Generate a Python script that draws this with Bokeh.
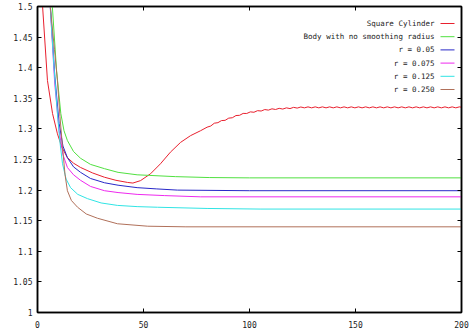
from bokeh.plotting import figure
from bokeh.models import Range1d, LinearAxis, FixedTicker, Label, Arrow
from bokeh.embed import file_html
from bokeh.resources import INLINE

# ---- data ----
x_square = [1.0, 2.4, 4.7, 7.1, 9.4, 11.5, 14.1, 17, 20.3, 26, 31.6, 37, 42.5, 45, 48.6,
            53.3, 58, 62.7, 67.5, 72.2, 76.9,
            80, 81.7, 83.4, 85.1, 86.8, 88.5, 90.2, 91.9, 93.6, 95.3,
            97, 98.7, 100.4, 102.1, 103.8, 105.5, 107.2, 108.9, 110.6, 112.3,
            114, 115.7, 117.4, 119.1, 120.8, 122.5, 124.2, 125.9, 127.6, 129.3,
            131, 132.7, 134.4, 136.1, 137.8, 139.5, 141.2, 142.9, 144.6, 146.3,
            148, 149.7, 151.4, 153.1, 154.8, 156.5, 158.2, 159.9, 161.6, 163.3,
            165, 166.7, 168.4, 170.1, 171.8, 173.5, 175.2, 176.9, 178.6, 180.3,
            182, 183.7, 185.4, 187.1, 188.8, 190.5, 192.2, 193.9, 195.6, 197.3,
            199, 200]
y_square = [1.62, 1.5, 1.379, 1.325, 1.292, 1.270, 1.253, 1.244, 1.237, 1.228, 1.221, 1.216,
            1.2125, 1.2115, 1.2155,
            1.2266, 1.243, 1.262, 1.278, 1.289, 1.297,
            1.3028, 1.3047, 1.3093, 1.3102, 1.3136, 1.3140, 1.3176, 1.3182, 1.3218, 1.3222,
            1.3253, 1.3252, 1.3278, 1.3272, 1.3298, 1.3292, 1.3316, 1.3307, 1.3328, 1.3317,
            1.3336, 1.3324, 1.3344, 1.3332, 1.3352, 1.3340, 1.3358, 1.3344, 1.3360, 1.3344,
            1.3360, 1.3344, 1.3360, 1.3344, 1.3360, 1.3344, 1.3360, 1.3344, 1.3360, 1.3344,
            1.3360, 1.3344, 1.3360, 1.3344, 1.3360, 1.3344, 1.3360, 1.3344, 1.3360, 1.3344,
            1.3360, 1.3344, 1.3360, 1.3344, 1.3360, 1.3344, 1.3360, 1.3344, 1.3360, 1.3344,
            1.3360, 1.3344, 1.3360, 1.3344, 1.3360, 1.3344, 1.3360, 1.3344, 1.3360, 1.3344,
            1.3360, 1.3354]

x_body = [4, 7, 9, 11, 12.5, 14.1, 17, 20.3, 25, 31.6, 38, 47, 53, 65, 81, 100, 200]
y_body = [1.60, 1.50, 1.395, 1.325, 1.297, 1.281, 1.263, 1.252, 1.242, 1.235, 1.229, 1.225,
          1.224, 1.222, 1.2205, 1.220, 1.220]

x_r005 = [4, 6.1, 8.2, 10.2, 12, 14.1, 17, 20.3, 25, 31.6, 38, 47, 56, 66, 100, 200]
y_r005 = [1.60, 1.50, 1.385, 1.309, 1.272, 1.253, 1.238, 1.229, 1.219, 1.212, 1.208, 1.204,
          1.202, 1.200, 1.199, 1.199]

x_r0075 = [4, 6, 8.1, 10.2, 12, 14.1, 17, 20.3, 25, 31.6, 38, 47, 60, 77, 200]
y_r0075 = [1.60, 1.50, 1.375, 1.297, 1.258, 1.237, 1.225, 1.216, 1.206, 1.199, 1.196, 1.193,
           1.191, 1.189, 1.189]

x_r0125 = [4, 6, 7.8, 9.4, 10.6, 11.8, 13.5, 15.6, 19, 23.6, 30, 37.7, 47, 56.6, 80, 105, 200]
y_r0125 = [1.60, 1.50, 1.400, 1.325, 1.278, 1.243, 1.218, 1.204, 1.193, 1.186, 1.179, 1.175,
           1.173, 1.172, 1.170, 1.169, 1.169]

x_r0250 = [4, 6, 8, 9.4, 10.6, 11.8, 13, 14.1, 16, 18.9, 23, 28.3, 37.7, 52, 70, 200]
y_r0250 = [1.60, 1.50, 1.430, 1.379, 1.320, 1.270, 1.225, 1.199, 1.183, 1.172, 1.161, 1.154,
           1.145, 1.141, 1.140, 1.140]

series_labels = ["Square Cylinder", "Body with no smoothing radius",
                 "r = 0.05", "r = 0.075", "r = 0.125", "r = 0.250"]
series_colors = ["#e8202e", "#50e040", "#2828c8", "#ee28ee", "#30e4e4", "#b0705a"]

x_ticks = [0, 50, 100, 150, 200]
x_tick_labels = ["0", "50", "100", "150", "200"]
y_ticks = [1.0, 1.05, 1.1, 1.15, 1.2, 1.25, 1.3, 1.35, 1.4, 1.45, 1.5]
y_tick_labels = ["1", "1.05", "1.1", "1.15", "1.2", "1.25", "1.3", "1.35", "1.4", "1.45", "1.5"]

n = min(len(x_square), len(y_square))
x_square, y_square = x_square[:n], y_square[:n]

FONT = "DejaVu Sans Mono"

p = figure(width=474, height=333, output_backend="svg", toolbar_location=None,
           x_range=Range1d(0, 200), y_range=Range1d(1.0, 1.5),
           min_border_left=37, min_border_right=13, min_border_top=6, min_border_bottom=21,
           background_fill_color="white", border_fill_color="white")
p.xgrid.visible = False
p.ygrid.visible = False
p.outline_line_color = "black"
p.outline_line_width = 1.5

xs = [x_square, x_body, x_r005, x_r0075, x_r0125, x_r0250]
ys = [y_square, y_body, y_r005, y_r0075, y_r0125, y_r0250]
for xv, yv, c in zip(xs, ys, series_colors):
    p.line(xv, yv, line_color=c, line_width=1)


def style_axis(ax, ticks, labels=None, show=True):
    ax.ticker = FixedTicker(ticks=ticks)
    ax.minor_tick_line_color = None
    ax.major_tick_in = 4
    ax.major_tick_out = 0
    ax.major_tick_line_color = "black"
    ax.major_tick_line_width = 1
    ax.axis_line_color = "black"
    ax.axis_line_width = 1.5
    if show:
        ax.major_label_overrides = {t: l for t, l in zip(ticks, labels)}
        ax.major_label_text_font = FONT
        ax.major_label_text_font_size = "8px"
        ax.major_label_text_color = "#222222"
    else:
        ax.major_label_text_color = None
        ax.major_label_text_font_size = "1px"
        ax.major_label_standoff = 0


style_axis(p.xaxis[0], x_ticks, x_tick_labels)
p.xaxis[0].major_label_standoff = 8
style_axis(p.yaxis[0], y_ticks, y_tick_labels)
p.yaxis[0].major_label_standoff = 5

top_ax = LinearAxis()
style_axis(top_ax, x_ticks, show=False)
p.add_layout(top_ax, "above")
right_ax = LinearAxis()
style_axis(right_ax, y_ticks, show=False)
p.add_layout(right_ax, "right")

# gnuplot-style key: text right-aligned, line sample to the right
key_text_right = 397
key_line_start = 403
key_line_end = 417
key_top = 289
key_step = 13.2
for i, (lab, c) in enumerate(zip(series_labels, series_colors)):
    yy = key_top - i * key_step
    p.add_layout(Label(x=key_text_right, y=yy, x_units="screen", y_units="screen",
                       text=lab, text_align="right", text_baseline="middle",
                       text_font=FONT, text_font_size="7.5px", text_color="#222222"))
    p.add_layout(Arrow(x_start=key_line_start, y_start=yy, x_end=key_line_end, y_end=yy,
                       start_units="screen", end_units="screen", start=None, end=None,
                       line_color=c, line_width=1))

open("out.html", "w").write(file_html(p, INLINE))
